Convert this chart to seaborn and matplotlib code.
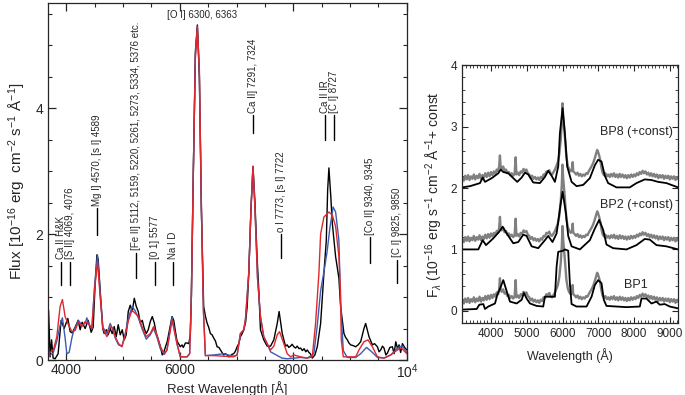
import matplotlib
matplotlib.use("Agg")
import matplotlib.pyplot as plt
from matplotlib.ticker import MultipleLocator, FixedLocator
import seaborn as sns

# ---- left panel: nebular spectrum vs two models ----
obs_wave = [3685, 3691, 3718, 3744, 3771, 3806, 3859, 3912, 3965, 4018, 4030, 4071, 4106, 4159,
            4212, 4247, 4282, 4335, 4388, 4441, 4476, 4512, 4542, 4564, 4591, 4617, 4644, 4670,
            4706, 4741, 4776, 4811, 4847, 4882, 4917, 4953, 4988, 5023, 5058, 5094, 5129, 5164,
            5200, 5235, 5270, 5305, 5341, 5376, 5411, 5446, 5482, 5517, 5552, 5588, 5623, 5658,
            5693, 5711, 5782, 5835, 5865, 5895, 5925, 5953, 6011, 6040, 6064, 6100, 6129, 6160,
            6187, 6205, 6240, 6276, 6311, 6346, 6381, 6422, 6452, 6481, 6510, 6540, 6570, 6598,
            6630, 6658, 6690, 6717, 6745, 6775, 6805, 6835, 6865, 6893, 6920, 6951, 6980, 7011,
            7040, 7069, 7100, 7128, 7160, 7188, 7216, 7255, 7290, 7325, 7364, 7392, 7422, 7480,
            7540, 7599, 7657, 7717, 7750, 7805, 7863, 7893, 7920, 7951, 7980, 8010, 8040, 8069,
            8100, 8128, 8160, 8190, 8220, 8246, 8275, 8300, 8334, 8380, 8422, 8481, 8539, 8581,
            8605, 8627, 8660, 8687, 8745, 8803, 8833, 8892, 8920, 8951, 8980, 9010, 9050, 9098,
            9140, 9186, 9244, 9274, 9333, 9393, 9430, 9481, 9510, 9539, 9570, 9597, 9630, 9657,
            9700, 9745, 9775, 9804, 9835, 9862, 9890, 9922, 9960, 9998]
obs_flux = [0.11, 0.79, 0.05, 0.32, 0.03, 0.02, 0.10, 0.63, 0.50, 0.63, 0.66, 0.45, 0.43, 0.52,
            0.63, 0.48, 0.60, 0.50, 0.63, 0.44, 0.52, 1.22, 1.67, 1.60, 1.22, 0.85, 0.50, 0.42,
            0.48, 0.40, 0.50, 0.42, 0.53, 0.37, 0.56, 0.40, 0.48, 0.32, 0.40, 0.77, 0.87, 0.77,
            0.98, 0.85, 0.77, 0.59, 0.63, 0.50, 0.42, 0.48, 0.61, 0.69, 0.59, 0.42, 0.32, 0.22,
            0.08, 0.10, 0.30, 0.55, 0.69, 0.63, 0.45, 0.30, 0.21, 0.24, 0.20, 0.27, 0.27, 0.26,
            0.40, 1.00, 3.00, 4.90, 5.32, 4.50, 2.40, 0.85, 0.70, 0.59, 0.52, 0.42, 0.40, 0.35,
            0.30, 0.21, 0.20, 0.16, 0.12, 0.08, 0.10, 0.08, 0.05, 0.06, 0.09, 0.10, 0.14, 0.21,
            0.26, 0.37, 0.42, 0.48, 0.60, 0.85, 1.38, 2.40, 3.07, 2.50, 1.60, 1.11, 0.48, 0.32,
            0.22, 0.22, 0.32, 0.58, 0.77, 0.42, 0.22, 0.24, 0.20, 0.22, 0.25, 0.21, 0.19, 0.22,
            0.18, 0.19, 0.15, 0.18, 0.13, 0.16, 0.12, 0.10, 0.03, 0.08, 0.21, 0.58, 1.38, 1.90,
            2.70, 3.05, 2.60, 2.17, 1.64, 1.30, 0.85, 0.42, 0.36, 0.32, 0.27, 0.24, 0.23, 0.21,
            0.24, 0.29, 0.50, 0.58, 0.37, 0.24, 0.26, 0.21, 0.13, 0.16, 0.22, 0.19, 0.08, 0.11,
            0.20, 0.21, 0.10, 0.29, 0.18, 0.24, 0.12, 0.26, 0.20, 0.16]

red_wave = [3685, 3776, 3836, 3894, 3935, 3982, 4041, 4101, 4159, 4217, 4277, 4335, 4393, 4453,
            4499, 4552, 4600, 4647, 4718, 4776, 4824, 4864, 4923, 4983, 5041, 5099, 5159, 5217,
            5275, 5335, 5411, 5482, 5540, 5600, 5658, 5729, 5776, 5865, 5953, 6011, 6129, 6175,
            6205, 6240, 6276, 6311, 6346, 6381, 6417, 6452, 6598, 6775, 6951, 7011, 7069, 7128,
            7158, 7216, 7255, 7290, 7325, 7370, 7422, 7480, 7540, 7599, 7657, 7717, 7757, 7833,
            7893, 7951, 8010, 8128, 8246, 8334, 8392, 8451, 8481, 8539, 8627, 8687, 8745, 8803,
            8830, 8845, 8880, 9098, 9156, 9244, 9315, 9393, 9481, 9597, 9715, 9834, 9904, 9998]
red_flux = [0.10, 0.16, 0.37, 0.85, 0.96, 0.69, 0.56, 0.45, 0.47, 0.61, 0.53, 0.61, 0.58, 0.50,
            1.11, 1.56, 1.00, 0.50, 0.37, 0.53, 0.50, 0.37, 0.26, 0.21, 0.40, 0.63, 0.79, 0.74,
            0.69, 0.53, 0.37, 0.42, 0.53, 0.40, 0.21, 0.10, 0.16, 0.63, 0.26, 0.05, 0.05, 0.10,
            1.00, 3.00, 4.80, 5.30, 4.60, 2.50, 0.80, 0.07, 0.07, 0.06, 0.05, 0.08, 0.42, 0.48,
            0.65, 1.38, 2.40, 3.08, 2.40, 1.30, 0.69, 0.37, 0.26, 0.16, 0.22, 0.40, 0.45, 0.26,
            0.10, 0.05, 0.08, 0.05, 0.03, 0.05, 0.58, 1.38, 2.00, 2.27, 2.35, 2.30, 2.12, 1.64,
            1.11, 0.32, 0.05, 0.05, 0.16, 0.29, 0.32, 0.21, 0.05, 0.03, 0.08, 0.16, 0.19, 0.10]

blue_wave = [3685, 3776, 3836, 3894, 3935, 3982, 4012, 4053, 4101, 4129, 4217, 4277, 4335, 4365,
             4393, 4453, 4499, 4552, 4600, 4647, 4718, 4776, 4824, 4864, 4923, 4983, 5041, 5099,
             5164, 5217, 5275, 5335, 5411, 5482, 5540, 5600, 5658, 5729, 5776, 5865, 5953, 6011,
             6129, 6175, 6205, 6240, 6276, 6311, 6346, 6381, 6417, 6452, 6598, 6775, 6951, 7011,
             7069, 7128, 7158, 7216, 7255, 7290, 7325, 7370, 7422, 7480, 7540, 7599, 7700, 7800,
             7893, 8010, 8128, 8246, 8362, 8422, 8481, 8539, 8592, 8645, 8701, 8745, 8803, 8833,
             8880, 8950, 9098, 9186, 9290, 9393, 9481, 9597, 9715, 9862, 9922, 9998]
blue_flux = [0.05, 0.12, 0.30, 0.55, 0.67, 0.35, 0.10, 0.12, 0.35, 0.45, 0.63, 0.55, 0.58, 0.67,
             0.58, 0.50, 1.15, 1.67, 1.05, 0.52, 0.42, 0.58, 0.48, 0.35, 0.24, 0.22, 0.42, 0.68,
             0.85, 0.78, 0.66, 0.50, 0.33, 0.40, 0.50, 0.36, 0.18, 0.09, 0.16, 0.68, 0.25, 0.05,
             0.05, 0.10, 1.00, 3.00, 4.85, 5.28, 4.55, 2.45, 0.80, 0.07, 0.08, 0.10, 0.06, 0.08,
             0.42, 0.48, 0.65, 1.38, 2.40, 3.06, 2.42, 1.30, 0.69, 0.37, 0.26, 0.13, 0.08, 0.03,
             0.02, 0.03, 0.04, 0.03, 0.10, 0.55, 1.10, 1.40, 1.70, 2.10, 2.43, 2.35, 1.90, 0.90,
             0.15, 0.04, 0.04, 0.10, 0.20, 0.12, 0.04, 0.03, 0.08, 0.21, 0.22, 0.12]

line_labels = ["Ca II H&K", "[S II] 4069, 4076", "Mg I] 4570, [s I] 4589",
               "[Fe II] 5112, 5159, 5220, 5261, 5273, 5334, 5376 etc.", "[0 1] 5577", "Na I D",
               "Ca II] 7291, 7324", "o I 7773, [s I] 7722", "Ca II IR", "[C I] 8727",
               "[Co II] 9340, 9345", "[C I] 9825, 9850"]
line_wave = [3912, 4065, 4552, 5235, 5558, 5875, 7286, 7775, 8556, 8715, 9350, 9834]
line_lo = [1.19, 1.19, 1.98, 1.30, 1.19, 1.19, 3.60, 1.62, 3.49, 3.49, 1.54, 1.22]
line_hi = [1.56, 1.56, 2.41, 1.70, 1.56, 1.56, 3.89, 2.00, 3.89, 3.89, 1.95, 1.59]

# ---- right panel: observed spectrum vs BP models ----
sn_wave = [3200, 3240, 3280, 3320, 3360, 3400, 3440, 3480, 3520, 3560, 3600, 3640, 3680, 3720,
           3760, 3800, 3840, 3880, 3920, 3960, 4000, 4040, 4080, 4120, 4160, 4200, 4230, 4250,
           4270, 4300, 4340, 4380, 4420, 4460, 4500, 4540, 4580, 4620, 4660, 4690, 4710, 4750,
           4790, 4830, 4870, 4910, 4950, 4990, 5030, 5070, 5110, 5150, 5190, 5230, 5270, 5310,
           5350, 5390, 5430, 5470, 5510, 5550, 5590, 5630, 5670, 5710, 5750, 5790, 5830, 5870,
           5910, 5950, 5980, 6000, 6020, 6050, 6080, 6110, 6150, 6190, 6230, 6260, 6285, 6300,
           6340, 6380, 6420, 6460, 6500, 6540, 6580, 6620, 6660, 6700, 6740, 6780, 6820, 6860,
           6900, 6940, 6970, 7000, 7030, 7060, 7090, 7120, 7160, 7200, 7240, 7280, 7320, 7360,
           7400, 7440, 7480, 7520, 7560, 7600, 7640, 7680, 7720, 7760, 7800, 7840, 7880, 7920,
           7960, 8000, 8040, 8080, 8120, 8160, 8200, 8240, 8280, 8320, 8360, 8400, 8440, 8480,
           8520, 8560, 8600, 8640, 8680, 8720, 8760, 8800, 8840, 8880, 8920, 8960, 9000, 9040,
           9080, 9120, 9160, 9200, 9220]
sn_flux = [0.17, 0.12, 0.20, 0.14, 0.21, 0.13, 0.19, 0.15, 0.22, 0.14, 0.20, 0.16, 0.23, 0.15,
           0.21, 0.17, 0.24, 0.18, 0.25, 0.19, 0.26, 0.21, 0.27, 0.23, 0.30, 0.27, 0.36, 0.53,
           0.34, 0.31, 0.35, 0.28, 0.30, 0.24, 0.26, 0.21, 0.24, 0.20, 0.23, 0.50, 0.22, 0.25,
           0.21, 0.27, 0.25, 0.31, 0.28, 0.30, 0.24, 0.22, 0.17, 0.20, 0.15, 0.18, 0.14, 0.17,
           0.13, 0.18, 0.16, 0.22, 0.21, 0.27, 0.26, 0.29, 0.23, 0.22, 0.26, 0.30, 0.36, 0.42,
           0.55, 0.78, 1.05, 1.38, 1.15, 0.95, 0.72, 0.50, 0.36, 0.30, 0.27, 0.30, 0.42, 0.27,
           0.25, 0.22, 0.25, 0.20, 0.23, 0.19, 0.22, 0.20, 0.24, 0.23, 0.28, 0.32, 0.36, 0.41,
           0.48, 0.56, 0.62, 0.58, 0.52, 0.44, 0.33, 0.25, 0.21, 0.24, 0.19, 0.22, 0.18, 0.23,
           0.19, 0.24, 0.18, 0.22, 0.17, 0.23, 0.18, 0.22, 0.17, 0.21, 0.16, 0.21, 0.17, 0.22,
           0.18, 0.22, 0.19, 0.24, 0.21, 0.26, 0.23, 0.28, 0.24, 0.27, 0.22, 0.25, 0.20, 0.24,
           0.19, 0.23, 0.18, 0.22, 0.16, 0.21, 0.17, 0.21, 0.15, 0.20, 0.16, 0.20, 0.14, 0.19,
           0.15, 0.19, 0.13, 0.18, 0.15]

bp1_wave = [3190, 3601, 3674, 3785, 3832, 3925, 4112, 4176, 4251, 4344, 4438, 4531, 4718, 4857,
            4922, 4997, 5089, 5276, 5461, 5508, 5788, 5835, 5880, 6020, 6067, 6159, 6206, 6254,
            6394, 6673, 6813, 6905, 6997, 7091, 7155, 7230, 7790, 8162, 8209, 8348, 8488, 8628,
            8720, 8860, 9000, 9231]
bp1_flux = [0.02, 0.03, 0.10, 0.11, 0.03, 0.07, 0.12, 0.26, 0.36, 0.50, 0.32, 0.15, 0.12, 0.18,
            0.29, 0.20, 0.12, 0.08, 0.07, 0.23, 0.23, 0.72, 0.96, 0.98, 1.00, 0.98, 0.45, 0.11,
            0.07, 0.07, 0.23, 0.42, 0.50, 0.45, 0.18, 0.08, 0.06, 0.07, 0.20, 0.20, 0.12, 0.15,
            0.10, 0.11, 0.07, 0.04]

bp2_wave = [3190, 3645, 3768, 3860, 4064, 4232, 4327, 4438, 4623, 4762, 4902, 4995, 5137, 5321,
            5508, 5600, 5720, 5835, 5899, 5950, 6003, 6095, 6159, 6254, 6486, 6765, 6905, 7025,
            7137, 7230, 7416, 7790, 8069, 8301, 8440, 8628, 8907, 9231]
bp2_flux = [0.00, 0.00, 0.15, 0.07, 0.18, 0.29, 0.37, 0.26, 0.10, 0.12, 0.24, 0.22, 0.05, 0.02,
            0.15, 0.22, 0.12, 0.26, 0.53, 0.75, 0.94, 0.59, 0.22, 0.05, 0.00, 0.15, 0.34, 0.48,
            0.32, 0.08, 0.02, 0.00, 0.07, 0.17, 0.16, 0.07, 0.05, 0.00]

bp8_wave = [3190, 3413, 3693, 3768, 3832, 4020, 4204, 4271, 4344, 4483, 4623, 4735, 4857, 4950,
            5042, 5181, 5369, 5508, 5600, 5695, 5788, 5880, 5927, 6003, 6067, 6131, 6254, 6394,
            6578, 6765, 6905, 6997, 7091, 7183, 7276, 7511, 7882, 8069, 8301, 8488, 8673, 8907,
            9231]
bp8_flux = [0.01, 0.03, 0.08, 0.17, 0.10, 0.16, 0.24, 0.30, 0.26, 0.24, 0.16, 0.10, 0.17, 0.25,
            0.22, 0.09, 0.08, 0.18, 0.28, 0.20, 0.10, 0.35, 0.89, 1.30, 0.89, 0.35, 0.10, 0.03,
            0.05, 0.16, 0.37, 0.46, 0.43, 0.20, 0.08, 0.01, 0.01, 0.08, 0.14, 0.13, 0.10, 0.08,
            0.01]

offsets = [0, 1, 2]
bp_names = ["BP1", "BP2 (+const)", "BP8 (+const)"]

sns.set_style("ticks")
plt.rcParams['font.family'] = ['Liberation Sans', 'DejaVu Sans']
plt.rcParams['mathtext.fontset'] = 'custom'
plt.rcParams['mathtext.rm'] = 'Liberation Sans'
plt.rcParams['mathtext.it'] = 'Liberation Sans:italic'
plt.rcParams['axes.linewidth'] = 0.9

fig = plt.figure(figsize=(6.85, 3.95), dpi=100)
ax = fig.add_axes([0.070, 0.0886, 0.524, 0.904])
ax2 = fig.add_axes([0.6745, 0.182, 0.315, 0.653])

sns.lineplot(x=obs_wave, y=obs_flux, ax=ax, color='black', lw=1.0, sort=False, estimator=None)
sns.lineplot(x=blue_wave, y=blue_flux, ax=ax, color='#3b5bb5', lw=1.0, sort=False, estimator=None)
sns.lineplot(x=red_wave, y=red_flux, ax=ax, color='#e0282c', lw=1.0, sort=False, estimator=None)

for lab, w, lo, hi in zip(line_labels, line_wave, line_lo, line_hi):
    ax.plot([w, w], [lo, hi], color='black', lw=1.0)
    ax.text(w, hi + 0.04, lab, rotation=90, ha='center', va='bottom', fontsize=7)
ax.text(6400, 5.48, "[O I] 6300, 6363", ha='center', va='center', fontsize=7)

ax.set_xlim(3680, 10000)
ax.set_ylim(0, 5.67)
ax.xaxis.set_major_locator(FixedLocator([4000, 6000, 8000, 10000]))
ax.set_xticklabels(['4000', '6000', '8000', r'10$^4$'])
ax.xaxis.set_minor_locator(MultipleLocator(500))
ax.yaxis.set_major_locator(MultipleLocator(2))
ax.yaxis.set_minor_locator(MultipleLocator(0.5))
ax.tick_params(which='both', direction='in', top=True, right=True, labelsize=10)
ax.tick_params(which='major', length=6, width=0.9)
ax.tick_params(which='minor', length=3, width=0.8)
ax.tick_params(axis='x', pad=2)
ax.set_xlabel('Rest Wavelength [Å]', fontsize=9.5, labelpad=0)
ax.set_ylabel(r'Flux [10$^{-16}$ erg  cm$^{-2}$ s$^{-1}$ Å$^{-1}$]', fontsize=11, labelpad=5)

for off, mw, mf in zip(offsets, [bp1_wave, bp2_wave, bp8_wave], [bp1_flux, bp2_flux, bp8_flux]):
    sns.lineplot(x=sn_wave, y=[v + off for v in sn_flux], ax=ax2, color='#808080', lw=1.7,
                 sort=False, estimator=None)
    sns.lineplot(x=mw, y=[v + off for v in mf], ax=ax2, color='black', lw=1.3,
                 sort=False, estimator=None)

ax2.text(9080, 2.91, bp_names[2], ha='right', va='center', fontsize=9)
ax2.text(9080, 1.72, bp_names[1], ha='right', va='center', fontsize=9)
ax2.text(8050, 0.42, bp_names[0], ha='center', va='center', fontsize=9)

ax2.set_xlim(3190, 9225)
ax2.set_ylim(-0.2, 4)
ax2.xaxis.set_major_locator(MultipleLocator(1000))
ax2.xaxis.set_minor_locator(MultipleLocator(100))
ax2.yaxis.set_major_locator(MultipleLocator(1))
ax2.yaxis.set_minor_locator(MultipleLocator(0.2))
ax2.tick_params(which='both', direction='in', top=True, right=True, labelsize=8.5)
ax2.tick_params(which='major', length=4, width=0.8)
ax2.tick_params(which='minor', length=2, width=0.6)
ax2.set_xlabel('Wavelength (Å)', fontsize=9, labelpad=6)
ax2.set_ylabel(r'F$_\lambda$ (10$^{-16}$ erg s$^{-1}$ cm$^{-2}$ Å$^{-1}$+ const', fontsize=10, labelpad=4)

fig.savefig('out.png', dpi=100)
